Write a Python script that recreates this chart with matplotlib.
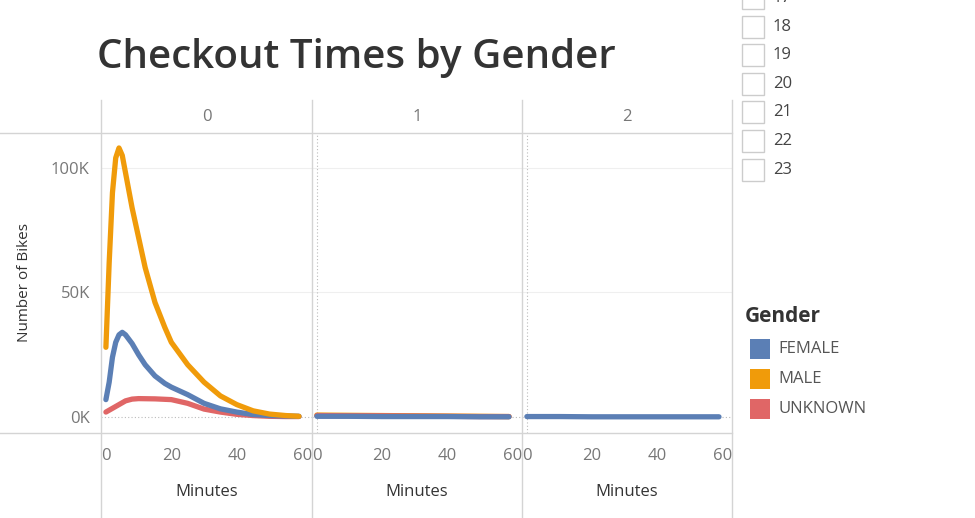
import matplotlib.pyplot as plt
from matplotlib.patches import Rectangle
from matplotlib.lines import Line2D

plt.rcParams['font.family'] = ['Open Sans', 'DejaVu Sans']

W, H = 975, 518

# data (minutes -> bikes, in thousands)
minutes_m = [0, 1, 2, 3, 4, 5, 6, 8, 10, 12, 15, 18, 20, 25, 30, 35, 40, 45, 50, 55, 59]
male_0 = [28, 62, 90, 104, 108, 105, 98, 84, 72, 60, 46, 36, 30, 21, 14, 8.5, 5, 2.5, 1.2, 0.6, 0.3]
minutes_f = [0, 1, 2, 3, 4, 5, 6, 8, 10, 12, 15, 18, 20, 25, 30, 35, 40, 45, 50, 55, 59]
female_0 = [7, 14, 24, 30, 33, 34, 33, 29.5, 25, 21, 16.5, 13.5, 12, 9, 5.5, 3.3, 2, 1, 0.6, 0.4, 0.3]
minutes_u = [0, 2, 4, 6, 8, 10, 15, 20, 25, 30, 35, 40, 45, 50, 55, 59]
unknown_0 = [2, 3.5, 5, 6.5, 7.2, 7.4, 7.3, 7, 5.5, 3.2, 2, 1.1, 0.6, 0.3, 0.2, 0.2]
minutes_s = [0, 10, 20, 30, 40, 50, 59]
male_1 = [0.8, 0.7, 0.6, 0.5, 0.4, 0.3, 0.2]
unknown_1 = [0.6, 0.5, 0.5, 0.4, 0.3, 0.2, 0.2]
female_1 = [0.3, 0.3, 0.2, 0.2, 0.2, 0.1, 0.1]
female_2 = [0.2, 0.2, 0.1, 0.1, 0.1, 0.1, 0.1]

panel_labels = ['0', '1', '2']
genders = ['FEMALE', 'MALE', 'UNKNOWN']
colors = {'FEMALE': '#5b7fb5', 'MALE': '#f09b0a', 'UNKNOWN': '#e06666'}
hours_shown = ['17', '18', '19', '20', '21', '22', '23']

panel_series = [
    [('UNKNOWN', minutes_u, unknown_0), ('FEMALE', minutes_f, female_0), ('MALE', minutes_m, male_0)],
    [('MALE', minutes_s, male_1), ('UNKNOWN', minutes_s, unknown_1), ('FEMALE', minutes_s, female_1)],
    [('FEMALE', minutes_s, female_2)],
]

fig = plt.figure(figsize=(W / 100, H / 100), dpi=100)


def fx(px):
    return px / W


def fy(py):
    return 1 - py / H


grey = '#d4d4d4'
txt = '#777777'

edges = [101, 312, 522, 732]
top, bot = 133, 433
for i in range(3):
    l, r = edges[i], edges[i + 1]
    ax = fig.add_axes([fx(l), fy(bot), fx(r - l), (bot - top) / H])
    for g, xs, ys in panel_series[i]:
        ax.plot(xs, ys, color=colors[g], lw=3.8, solid_capstyle='round', zorder=3)
    ax.set_xlim(-1.5, 63.0)
    ax.set_ylim(-6.4, 114)
    for v in [50, 100]:
        ax.axhline(v, color='#efefef', lw=0.8, zorder=1)
    ax.axhline(0, color='#bbbbbb', lw=0.8, ls=(0, (1, 2)), zorder=1)
    if i > 0:
        ax.axvline(0, color='#bbbbbb', lw=0.8, ls=(0, (1, 2)), zorder=1)
    for s in ax.spines.values():
        s.set_visible(False)
    ax.set_xticks([0, 20, 40, 60])
    ax.tick_params(axis='x', length=0, labelsize=12, labelcolor=txt, pad=11)
    ax.set_xlabel('Minutes', fontsize=12, color='#333333', labelpad=14)
    if i == 0:
        ax.set_yticks([0, 50, 100])
        ax.set_yticklabels(['0K', '50K', '100K'])
        ax.tick_params(axis='y', length=0, labelsize=12, labelcolor=txt, pad=8)
        ax.set_ylabel('Number of Bikes', fontsize=11, color='#333333', labelpad=14)
    else:
        ax.set_yticks([])
    fig.text(fx((l + r) / 2), fy(117), panel_labels[i], ha='center', va='center',
             fontsize=12, color=txt)

# frame lines
for e in edges:
    fig.add_artist(Line2D([fx(e), fx(e)], [fy(100), fy(518)], color=grey, lw=1))
for yy in [top, bot]:
    fig.add_artist(Line2D([0, fx(732)], [fy(yy), fy(yy)], color=grey, lw=1))

fig.text(fx(97), fy(58), 'Checkout Times by Gender', fontsize=29, fontweight='semibold',
         color='#333333', ha='left', va='center')

# hour filter checkboxes
for k, h in enumerate(hours_shown):
    yc = -2 + 28.6 * k
    fig.add_artist(Rectangle((fx(742), fy(yc + 11)), fx(22), 22 / H, facecolor='white',
                             edgecolor='#cccccc', lw=1))
    fig.text(fx(773), fy(yc), h, fontsize=12, color='#444444', va='center')

# legend
fig.text(fx(745), fy(316), 'Gender', fontsize=15, fontweight='bold', color='#333333', va='center')
for k, g in enumerate(genders):
    yc = 349 + 30 * k
    fig.add_artist(Rectangle((fx(750), fy(yc + 10)), fx(20), 20 / H, facecolor=colors[g],
                             edgecolor='none'))
    fig.text(fx(778), fy(yc), g, fontsize=12, color='#555555', va='center')

fig.savefig('out.png', dpi=100)
